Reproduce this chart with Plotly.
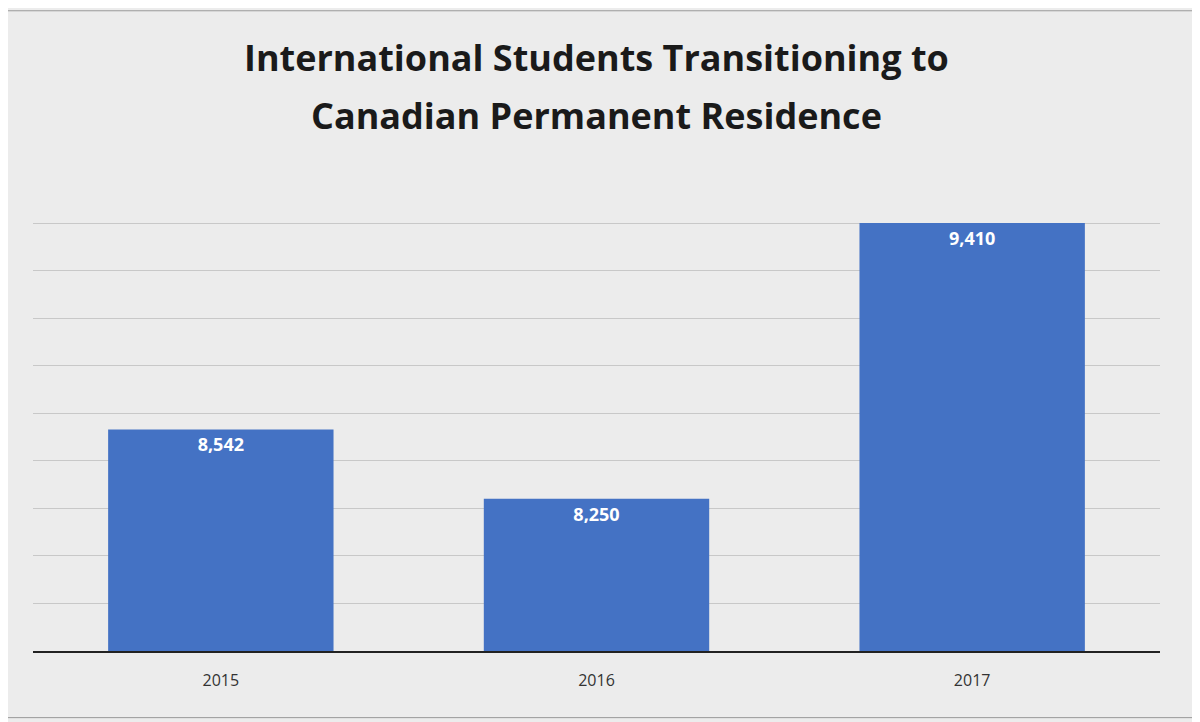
import plotly.graph_objects as go

years = ["2015", "2016", "2017"]
values = [8542, 8250, 9410]
labels = ["8,542", "8,250", "9,410"]
title_lines = ["International Students Transitioning to", "Canadian Permanent Residence"]

fig = go.Figure(go.Bar(
    x=years, y=values, text=labels, textposition="inside", insidetextanchor="end",
    textfont=dict(color="white", size=18, family="Open Sans"),
    marker=dict(color="#4472C4", line=dict(width=0)),
    width=0.6,
))
fig.update_traces(texttemplate="<b>%{text}</b>")
fig.update_layout(
    width=1200, height=722,
    paper_bgcolor="#ececec", plot_bgcolor="rgba(0,0,0,0)",
    margin=dict(l=25, r=48, t=167, b=79),
    xaxis=dict(showline=True, linecolor="#222", linewidth=2,
               tickfont=dict(size=16, color="#333", family="Open Sans"),
               ticks="", ticklabelstandoff=14),
    yaxis=dict(range=[7610, 9612], tick0=7610, dtick=200, showticklabels=False,
               gridcolor="#c8c8c8", gridwidth=1, zeroline=False),
    annotations=[
        dict(text="<b>%s</b>" % title_lines[0], xref="paper", yref="paper", x=0.5, y=1.246,
             xanchor="center", yanchor="middle", showarrow=False,
             font=dict(family="Open Sans", size=36, color="#1a1a1a")),
        dict(text="<b>%s</b>" % title_lines[1], xref="paper", yref="paper", x=0.5, y=1.126,
             xanchor="center", yanchor="middle", showarrow=False,
             font=dict(family="Open Sans", size=36, color="#1a1a1a")),
    ],
    shapes=[dict(type="rect", xref="paper", yref="paper", x0=-0.026, x1=1.036, y0=-0.14, y1=1.345,
                 line=dict(color="#999", width=1))],
    showlegend=False,
)
fig.write_html("out.html")
